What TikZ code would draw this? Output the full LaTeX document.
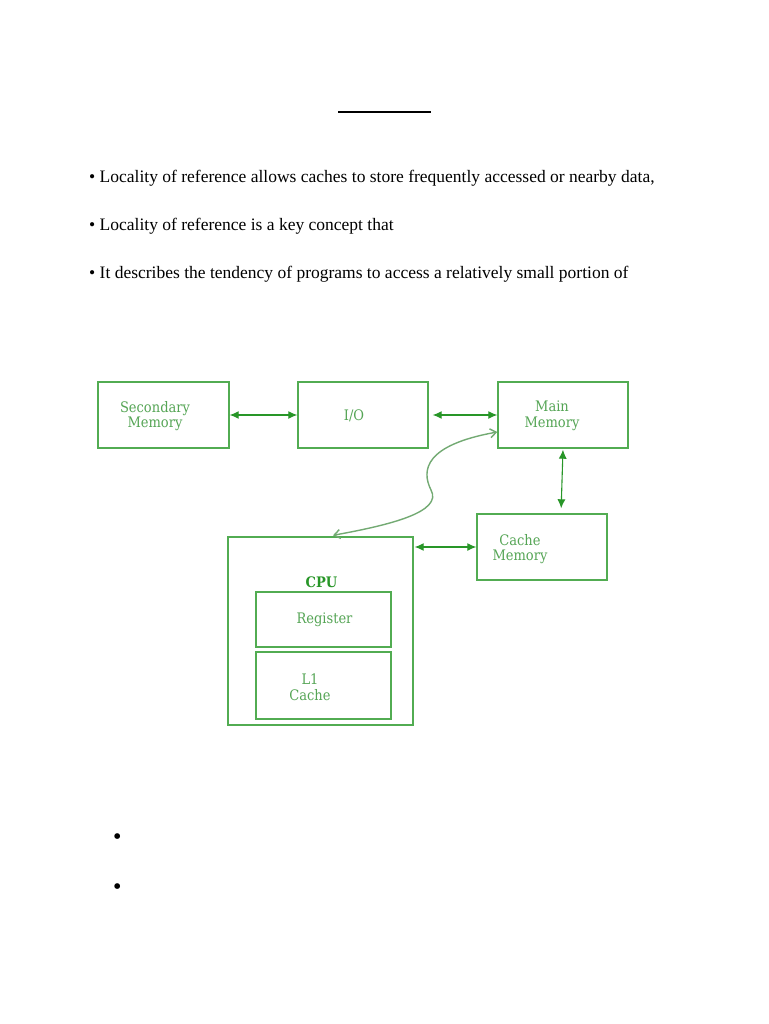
\documentclass[tikz,border=0pt]{standalone}
\usepackage{fontspec}
\setmainfont{Liberation Serif}
\newfontfamily\boxfont{DejaVu Serif Condensed}
\usetikzlibrary{arrows.meta}
\definecolor{boxline}{RGB}{82,172,82}
\definecolor{arrgreen}{RGB}{40,150,40}
\definecolor{txtgreen}{RGB}{85,165,85}
\definecolor{curvecol}{RGB}{115,170,115}
\begin{document}
\begin{tikzpicture}[x=1pt,y=-1pt,
  box/.style={draw=boxline,line width=1.4pt,minimum width=#1,inner sep=0pt},
  lbl/.style={text=txtgreen,font=\boxfont\fontsize{14.5}{15.5}\selectfont,align=center,inner sep=0pt},
  btxt/.style={anchor=base west,inner sep=0pt,font=\fontsize{17.5}{20}\selectfont},
  dbl/.style={draw=arrgreen,line width=1.1pt,{Latex[length=9pt,width=8pt]}-{Latex[length=9pt,width=8pt]}},
  curvy/.style={draw=curvecol,line width=1.4pt,{Straight Barb[length=6pt,width=9pt]}-{Straight Barb[length=6pt,width=9pt]}}
]
\useasboundingbox (0,0) rectangle (768,1024);
\fill[white] (0,0) rectangle (768,1024);
% title rule
\coordinate (ruleA) at (338,112);
\coordinate (ruleB) at (431,112);
\draw[line width=2pt] (ruleA) -- (ruleB);
% bullet text
\node[btxt] (t1) at (89,183) {\textbullet\ Locality of reference allows caches to store frequently accessed or nearby data,};
\node[btxt] (t2) at (89,230) {\textbullet\ Locality of reference is a key concept that};
\node[btxt] (t3) at (89,278) {\textbullet\ It describes the tendency of programs to access a relatively small portion of};
% boxes
\node[box=131pt,minimum height=66pt] (sec) at (163.5,415) {};
\node[box=130pt,minimum height=66pt] (io) at (363,415) {};
\node[box=130pt,minimum height=66pt] (main) at (563,415) {};
\node[box=130pt,minimum height=66pt] (cache) at (542,547) {};
\node[box=185pt,minimum height=188pt] (cpu) at (320.5,631) {};
\node[box=135pt,minimum height=55pt] (reg) at (323.5,619.5) {};
\node[box=135pt,minimum height=67pt] (l1) at (323.5,685.5) {};
% labels
\node[lbl] (secL) at (155,416) {Secondary\\Memory};
\node[lbl] (ioL) at (354,416) {I/O};
\node[lbl] (mainL) at (552,416) {Main\\Memory};
\node[lbl] (cacheL) at (520,549) {Cache\\Memory};
\node[lbl,font=\boxfont\bfseries\fontsize{14.5}{15.5}\selectfont,text=arrgreen] (cpuL) at (321.5,582) {CPU};
\node[lbl] (regL) at (324.5,620) {Register};
\node[lbl] (l1L) at (310,687) {L1\\Cache};
% connectors
\draw[dbl] (sec) -- (io);
\draw[dbl,shorten <=4pt] (io) -- (main);
\draw[dbl,shorten <=1pt,shorten >=5pt] ([xshift=0pt]main.south) -- ([xshift=19pt]cache.north);
\draw[dbl,shorten >=1pt] (cache.west) -- (cache.west -| cpu.east);
\draw[curvy] ([xshift=12.5pt,yshift=1pt]cpu.north) .. controls (390,525) and (443,512) .. (431,490)
   .. controls (421,470) and (425,445) .. ([yshift=-17pt]main.west);
% empty bullets
\node[btxt,font=\fontsize{24}{26}\selectfont] (b1) at (113,844) {\textbullet};
\node[btxt,font=\fontsize{24}{26}\selectfont] (b2) at (113,894) {\textbullet};
\end{tikzpicture}
\end{document}
